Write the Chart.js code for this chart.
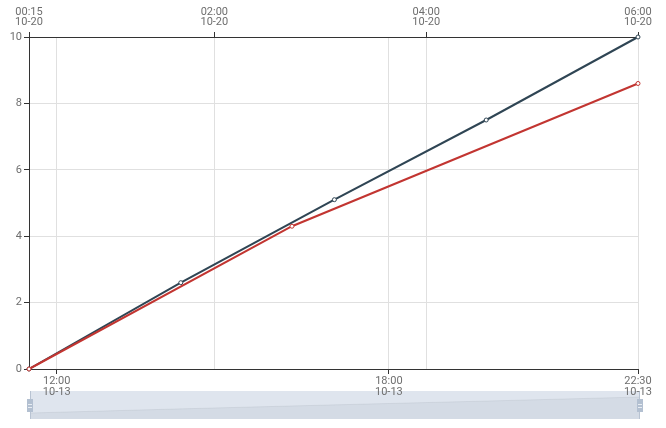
<!DOCTYPE html>
<html>
<head>
<meta charset="utf-8">
<script src="https://cdn.jsdelivr.net/npm/chart.js@4"></script>
<style>
  html, body { margin: 0; padding: 0; background: #fff; }
  #wrap { width: 666px; height: 428px; }
</style>
</head>
<body>
<div id="wrap"><canvas id="chart"></canvas></div>
<script>
// top axis series (10-20)
const darkTimes = ["00:15", "01:41", "03:08", "04:34", "06:00"];
const darkValues = [0, 2.6, 5.1, 7.5, 10];
// bottom axis series (10-13)
const redTimes = ["11:30", "16:15", "22:30"];
const redValues = [0, 4.3, 8.6];

const topTicks = ["00:15", "02:00", "04:00", "06:00"];
const topDate = "10-20";
const bottomTicks = ["12:00", "18:00", "22:30"];
const bottomDate = "10-13";
const yTicks = [0, 2, 4, 6, 8, 10];

function toMin(t) {
  const p = t.split(":");
  return +p[0] * 60 + +p[1];
}
function fmt(m) {
  const h = Math.floor(m / 60), mm = Math.round(m % 60);
  return String(h).padStart(2, "0") + ":" + String(mm).padStart(2, "0");
}

const labelColor = "#6e6e6e";
const axisColor = "#333";
const gridColor = "#e0e0e0";
const font = { family: "Roboto", size: 11, lineHeight: 0.96 };

// slider under the plot (drawn before the axes so labels sit on top)
const sliderPlugin = {
  id: "slider",
  beforeDraw(chart) {
    const ctx = chart.ctx;
    const a = chart.chartArea;
    const x0 = a.left + 1, x1 = a.right + 2;
    const top = a.bottom + 22, bot = a.bottom + 50;
    const h = bot - top;
    const sx = chart.scales.x2;
    const pts = darkTimes.map((t, i) => [
      x0 + (sx.getPixelForValue(toMin(t)) - a.left) / (a.right - a.left) * (x1 - x0),
      bot - 6 - darkValues[i] / 10 * (h - 12)
    ]);
    ctx.save();
    ctx.fillStyle = "#dfe5ee";
    ctx.fillRect(x0, top, x1 - x0, h);
    ctx.beginPath();
    ctx.moveTo(x0, bot);
    pts.forEach(p => ctx.lineTo(p[0], p[1]));
    ctx.lineTo(x1, bot);
    ctx.closePath();
    ctx.fillStyle = "rgba(47,69,84,0.06)";
    ctx.fill();
    ctx.beginPath();
    pts.forEach((p, i) => i === 0 ? ctx.moveTo(p[0], p[1]) : ctx.lineTo(p[0], p[1]));
    ctx.strokeStyle = "rgba(47,69,84,0.15)";
    ctx.lineWidth = 0.5;
    ctx.stroke();
    ctx.strokeStyle = "#b8c3d2";
    ctx.lineWidth = 1;
    ctx.beginPath();
    ctx.moveTo(x0 + 0.5, top);
    ctx.lineTo(x0 + 0.5, bot);
    ctx.moveTo(x1 - 0.5, top);
    ctx.lineTo(x1 - 0.5, bot);
    ctx.stroke();
    [x0, x1].forEach(hx => {
      ctx.fillStyle = "#b3c0d1";
      ctx.fillRect(hx - 3, top + 8, 6, 13);
      ctx.strokeStyle = "#e8edf3";
      ctx.beginPath();
      ctx.moveTo(hx - 2, top + 13.5);
      ctx.lineTo(hx + 2, top + 13.5);
      ctx.moveTo(hx - 2, top + 16.5);
      ctx.lineTo(hx + 2, top + 16.5);
      ctx.stroke();
    });
    ctx.restore();
  }
};

new Chart(document.getElementById("chart"), {
  type: "line",
  data: {
    datasets: [
      {
        label: "bottom",
        data: redTimes.map((t, i) => ({ x: toMin(t), y: redValues[i] })),
        xAxisID: "x",
        borderColor: "#c23531",
        backgroundColor: "#fff",
        borderWidth: 2,
        pointRadius: 2,
        pointBorderWidth: 1,
        pointBackgroundColor: "#fff",
        pointBorderColor: "#c23531",
        tension: 0,
        clip: false
      },
      {
        label: "top",
        data: darkTimes.map((t, i) => ({ x: toMin(t), y: darkValues[i] })),
        xAxisID: "x2",
        borderColor: "#2f4554",
        backgroundColor: "#fff",
        borderWidth: 2,
        pointRadius: 2,
        pointBorderWidth: 1,
        pointBackgroundColor: "#fff",
        pointBorderColor: "#2f4554",
        tension: 0,
        clip: false
      }
    ]
  },
  options: {
    responsive: true,
    maintainAspectRatio: false,
    animation: false,
    layout: { padding: { left: 0, right: 28, top: 0, bottom: 0 } },
    plugins: { legend: { display: false }, tooltip: { enabled: false } },
    scales: {
      x: {
        type: "linear",
        position: "bottom",
        min: toMin(redTimes[0]),
        max: toMin(redTimes[redTimes.length - 1]),
        afterBuildTicks: s => { s.ticks = bottomTicks.map(t => ({ value: toMin(t) })); },
        afterFit: s => { s.height = 59; },
        ticks: {
          maxRotation: 0,
          autoSkip: false,
          padding: 2,
          color: labelColor,
          font: font,
          callback: v => [fmt(v), bottomDate]
        },
        grid: { color: gridColor, tickColor: axisColor, tickLength: 5 },
        border: { color: axisColor, width: 1 }
      },
      x2: {
        type: "linear",
        position: "top",
        min: toMin(darkTimes[0]),
        max: toMin(darkTimes[darkTimes.length - 1]),
        afterBuildTicks: s => { s.ticks = topTicks.map(t => ({ value: toMin(t) })); },
        afterFit: s => { s.height = 37; },
        ticks: {
          maxRotation: 0,
          autoSkip: false,
          padding: 4,
          color: labelColor,
          font: font,
          callback: v => [fmt(v), topDate]
        },
        grid: { color: gridColor, tickColor: axisColor, tickLength: 5 },
        border: { color: axisColor, width: 1 }
      },
      y: {
        min: 0,
        max: 10,
        afterBuildTicks: s => { s.ticks = yTicks.map(v => ({ value: v })); },
        afterFit: s => { s.width = 29; },
        ticks: { color: labelColor, font: font, padding: 2 },
        grid: { color: gridColor, tickColor: axisColor, tickLength: 5 },
        border: { color: axisColor, width: 1 }
      }
    }
  },
  plugins: [sliderPlugin]
});
</script>
</body>
</html>
